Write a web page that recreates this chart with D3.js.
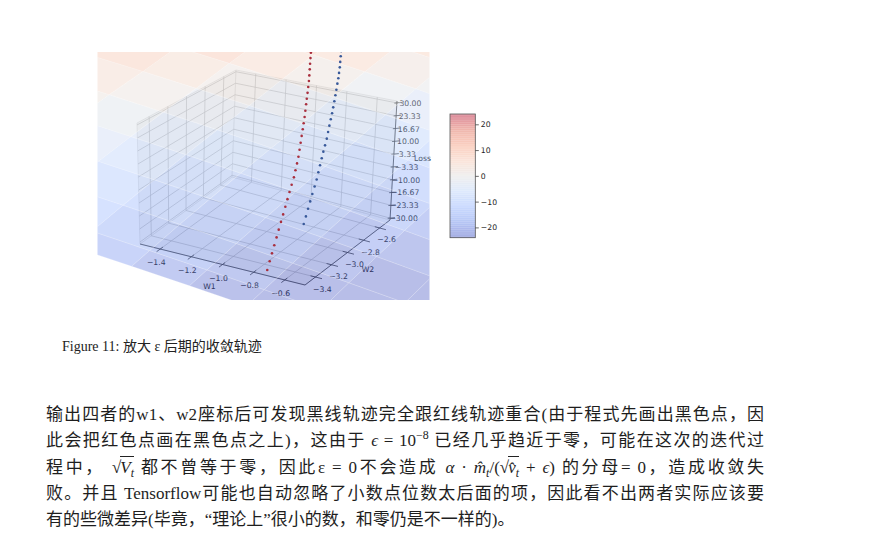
<!DOCTYPE html>
<html>
<head>
<meta charset="utf-8">
<script src="https://cdn.jsdelivr.net/npm/d3@7"></script>
<style>
  body { margin: 0; background: #fff; width: 891px; height: 557px; overflow: hidden; position: relative; }
  svg { position: absolute; left: 0; top: 0; }
  #caption { position: absolute; left: 62px; top: 337px; font-size: 14px; line-height: 20px;
    font-family: "Liberation Serif", "Noto Sans CJK SC"; color: #222; white-space: nowrap; }
  #para { position: absolute; left: 46px; top: 402px; width: 718px; font-size: 17px;
    font-family: "Liberation Serif", "Noto Sans CJK SC"; color: #1e1e1e; }
  .ln { height: 26.3px; line-height: 26.3px; text-align: justify; text-align-last: justify; }
  .ln.last { text-align-last: left; }
  .m { font-family: "Liberation Serif", "DejaVu Serif"; }
  .m sub, .m sup { font-size: 70%; line-height: 0; }
  .rad { border-top: 1px solid #222; padding-top: 1px; margin-left: -1px; }
</style>
</head>
<body>
<svg id="chart" width="891" height="557"></svg>
<div id="caption">Figure 11: 放大 ε 后期的收敛轨迹</div>
<div id="para">
  <div class="ln">输出四者的w1、w2座标后可发现黑线轨迹完全跟红线轨迹重合(由于程式先画出黑色点，因</div>
  <div class="ln">此会把红色点画在黑色点之上)，这由于 <span class="m"><i>ϵ</i> = 10<sup>−8</sup></span> 已经几乎趋近于零，可能在这次的迭代过</div>
  <div class="ln">程中， <span class="m">√<span class="rad"><i>V</i><sub><i>t</i></sub></span></span> 都不曾等于零，因此ε = 0不会造成 <span class="m"><i>α</i> · <i>m̂</i><sub><i>t</i></sub>/(√<span class="rad"><i>v̂</i><sub><i>t</i></sub></span> + <i>ϵ</i>)</span> 的分母= 0，造成收敛失</div>
  <div class="ln">败。并且 Tensorflow可能也自动忽略了小数点位数太后面的项，因此看不出两者实际应该要</div>
  <div class="ln last">有的些微差异(毕竟，“理论上”很小的数，和零仍是不一样的)。</div>
</div>
<script>
// axis ticks
const w1Ticks = [-1.4, -1.2, -1.0, -0.8, -0.6];
const w2Ticks = [-3.4, -3.2, -3.0, -2.8, -2.6];
const lossTicks = [-30, -23.33, -16.67, -10, -3.33, 3.33, 10, 16.67, 23.33, 30];
const cbarTicks = [-20, -10, 0, 10, 20];

// trajectories, in iteration order (the first points run above the top of the plot)
const redW1 = -0.72;
const redW2 = [-3.041, -3.044, -3.046, -3.049, -3.052, -3.054, -3.057, -3.060, -3.066, -3.072,
  -3.079, -3.085, -3.092, -3.099, -3.108, -3.117, -3.128, -3.138, -3.149, -3.160,
  -3.175, -3.192, -3.209, -3.234, -3.258, -3.281, -3.305, -3.330, -3.355, -3.381,
  -3.406, -3.433, -3.460, -3.487, -3.516];
const redLoss = [72.3, 69.7, 67.2, 64.5, 61.7, 58.9, 55.9, 53.1, 50.2, 47.4,
  44.6, 41.9, 38.8, 35.8, 32.9, 30.1, 27.0, 23.8, 20.6, 17.3,
  14.4, 11.4, 8.3, 5.3, 2.3, -0.6, -3.7, -6.8, -9.8, -12.9,
  -16.0, -19.1, -22.3, -25.4, -28.8];
const blueW1 = -0.62;
const blueW2 = [-2.880, -2.883, -2.886, -2.889, -2.892, -2.898, -2.904, -2.913, -2.922, -2.931,
  -2.941, -2.952, -2.963, -2.976, -2.990, -3.003, -3.016, -3.034, -3.052, -3.069,
  -3.087, -3.105, -3.123, -3.146, -3.171, -3.195, -3.219, -3.243, -3.268];
const blueLoss = [68.0, 65.4, 62.8, 60.0, 57.3, 54.6, 52.0, 49.5, 46.6, 44.0,
  41.2, 38.4, 35.7, 33.0, 30.1, 27.2, 24.2, 21.3, 18.6, 15.7,
  12.7, 9.7, 6.5, 3.7, 0.6, -2.4, -5.4, -8.5, -11.6];

// loss surface on a coarse grid (rows = W2, columns = W1)
const surfW1 = [-3.06, -2.70, -2.34, -1.98, -1.62, -1.26, -0.90, -0.54, -0.18, 0.18, 0.54];
const surfW2 = [-4.11, -3.90, -3.55, -3.20, -2.85, -2.50, -2.15, -1.80, -1.45, -1.10, -0.75];
const surfLoss = [
  [-4.6, -7.5, -10.4, -13.4, -16.3, -19.3, -22.2, -25.2, -28.1, -31.1, -34.0],
  [-3.1, -6.0, -8.9, -11.9, -14.8, -17.8, -20.7, -23.7, -26.6, -29.6, -32.5],
  [-0.5, -3.4, -6.3, -9.3, -12.2, -15.2, -18.1, -21.1, -24.0, -27.0, -29.9],
  [2.1, -0.9, -3.8, -6.8, -9.7, -12.7, -15.6, -18.6, -21.5, -24.5, -27.4],
  [4.6, 1.7, -1.2, -4.2, -7.1, -10.1, -13.0, -16.0, -18.9, -21.9, -24.8],
  [7.2, 4.3, 1.4, -1.6, -4.5, -7.5, -10.4, -13.4, -16.3, -19.3, -22.2],
  [9.7, 6.8, 3.9, 0.9, -2.0, -5.0, -7.9, -10.9, -13.8, -16.8, -19.7],
  [13.3, 10.4, 7.5, 4.5, 1.6, -1.4, -4.3, -7.3, -10.2, -13.2, -16.1],
  [16.8, 13.9, 11.0, 8.0, 5.1, 2.1, -0.8, -3.8, -6.7, -9.7, -12.6],
  [20.4, 17.5, 14.6, 11.6, 8.7, 5.7, 2.8, -0.2, -3.1, -6.1, -9.0],
  [24.0, 21.1, 18.2, 15.2, 12.3, 9.3, 6.4, 3.4, 0.5, -2.5, -5.4]
];

// ---- 3d box -> screen ----
var u = d3.scaleLinear().domain([-1.53, -0.47]).range([0, 1]);
var v = d3.scaleLinear().domain([-3.53, -2.47]).range([0, 1]);
var t = d3.scaleLinear().domain([-31, 31]).range([0, 1]);

// where the 8 corners of the unit box land on the page (key = u v t)
var corner = {
  '000': [140, 244], '100': [305, 285], '110': [390, 220], '010': [232, 177],
  '001': [137, 123], '101': [307, 157], '111': [397, 101], '011': [236, 70]
};
function projN(a, b, c) {
  var x = 0, y = 0;
  for (var k in corner) {
    var w = (k[0] == '1' ? a : 1 - a) * (k[1] == '1' ? b : 1 - b) * (k[2] == '1' ? c : 1 - c);
    x += w * corner[k][0]; y += w * corner[k][1];
  }
  return [x, y];
}
function proj(w1, w2, z) { return projN(u(w1), v(w2), t(z)); }

// coolwarm
var coolwarm = d3.scaleLinear()
  .domain([-24, -18, -12, -6, 0, 6, 12, 18, 24])
  .range(["#3b4cc0", "#6282ea", "#8db0fe", "#b8d0f9", "#dddddd", "#f5c4ad", "#f49a7b", "#de604d", "#b40426"])
  .clamp(true);
var surfAlpha = 0.36;

var svg = d3.select('#chart');
var line = d3.line();

svg.append('defs').append('clipPath').attr('id', 'axclip')
  .append('rect').attr('x', 97.5).attr('y', 52).attr('width', 332).attr('height', 248);

var ax = svg.append('g');

// panes
var panes = [
  [[0, 0, 0], [1, 0, 0], [1, 1, 0], [0, 1, 0]],
  [[0, 0, 0], [0, 1, 0], [0, 1, 1], [0, 0, 1]],
  [[0, 1, 0], [1, 1, 0], [1, 1, 1], [0, 1, 1]]
];
ax.selectAll('.pane').data(panes).enter().append('path')
  .attr('d', d => line(d.map(p => projN(p[0], p[1], p[2]))) + 'Z')
  .attr('fill', '#ececec').attr('fill-opacity', 0.5)
  .attr('stroke', '#d6d6d6').attr('stroke-width', 0.6);

// grid lines
var grid = [];
w1Ticks.forEach(function (d) {
  grid.push([projN(u(d), 0, 0), projN(u(d), 1, 0), projN(u(d), 1, 1)]);
});
w2Ticks.forEach(function (d) {
  grid.push([projN(1, v(d), 0), projN(0, v(d), 0), projN(0, v(d), 1)]);
});
lossTicks.forEach(function (d) {
  grid.push([projN(0, 0, t(d)), projN(0, 1, t(d)), projN(1, 1, t(d))]);
});
ax.selectAll('.grid').data(grid).enter().append('path')
  .attr('d', line).attr('fill', 'none')
  .attr('stroke', '#b9b9b9').attr('stroke-width', 0.7);

// axis lines
var axisCol = '#333';
[[[0, 0, 0], [1, 0, 0]], [[1, 0, 0], [1, 1, 0]], [[1, 1, 0], [1, 1, 1]]].forEach(function (s) {
  ax.append('path').attr('d', line(s.map(p => projN(p[0], p[1], p[2]))))
    .attr('stroke', axisCol).attr('stroke-width', 0.8).attr('fill', 'none');
});

var tickFont = '"DejaVu Sans", sans-serif';
var minus = s => s.replace('-', '\u2212');

// W1 ticks
w1Ticks.forEach(function (d) {
  ax.append('path').attr('d', line([projN(u(d), -0.04, 0), projN(u(d), 0.03, 0)]))
    .attr('stroke', axisCol).attr('stroke-width', 0.8);
  var p = projN(u(d), 0, 0);
  ax.append('text').attr('x', p[0] - 4).attr('y', p[1] + 13.5)
    .attr('text-anchor', 'middle').attr('dominant-baseline', 'central')
    .style('font-family', tickFont).style('font-size', '7.7px').attr('fill', '#262626')
    .text(minus(d3.format('.1f')(d)));
});
// W2 ticks
w2Ticks.forEach(function (d) {
  ax.append('path').attr('d', line([projN(0.97, v(d), 0), projN(1.04, v(d), 0)]))
    .attr('stroke', axisCol).attr('stroke-width', 0.8);
  var p = projN(1, v(d), 0);
  ax.append('text').attr('x', p[0] + 7).attr('y', p[1] + 12)
    .attr('text-anchor', 'middle').attr('dominant-baseline', 'central')
    .style('font-family', tickFont).style('font-size', '7.7px').attr('fill', '#262626')
    .text(minus(d3.format('.1f')(d)));
});
// Loss ticks
lossTicks.forEach(function (d) {
  ax.append('path').attr('d', line([projN(0.99, 0.99, t(d)), projN(1.02, 1.02, t(d))]))
    .attr('stroke', axisCol).attr('stroke-width', 0.8);
  var p = projN(1, 1, t(d));
  ax.append('text').attr('x', p[0] + 13.5).attr('y', p[1] + 0.5)
    .attr('text-anchor', 'middle').attr('dominant-baseline', 'central')
    .style('font-family', tickFont).style('font-size', '7.7px').attr('fill', '#262626')
    .text(d3.format('.2f')(d));
});

// axis labels
var lab = [
  { p: projN(0.5, 0, 0), dx: -13, dy: 22, s: 'W1' },
  { p: projN(1, 0.5, 0), dx: 20.5, dy: 16.5, s: 'W2' },
  { p: projN(1, 1, 0.5), dx: 29, dy: -2, s: 'Loss' }
];
lab.forEach(function (d) {
  ax.append('text').attr('x', d.p[0] + d.dx).attr('y', d.p[1] + d.dy)
    .attr('text-anchor', 'middle').attr('dominant-baseline', 'central')
    .style('font-family', tickFont).style('font-size', '7.7px').attr('fill', '#262626')
    .text(d.s);
});

// surface
var cells = [];
for (var i = 0; i < surfW2.length - 1; i++) {
  for (var j = 0; j < surfW1.length - 1; j++) {
    var ids = [[i, j], [i, j + 1], [i + 1, j + 1], [i + 1, j]];
    cells.push({
      pts: ids.map(k => proj(surfW1[k[1]], surfW2[k[0]], surfLoss[k[0]][k[1]])),
      z: d3.mean(ids, k => surfLoss[k[0]][k[1]])
    });
  }
}
var sg = svg.append('g').attr('clip-path', 'url(#axclip)');
sg.selectAll('.cell').data(cells).enter().append('path')
  .attr('d', d => line(d.pts) + 'Z')
  .attr('fill', d => coolwarm(d.z)).attr('fill-opacity', surfAlpha)
  .attr('stroke', '#ffffff').attr('stroke-opacity', 0.3).attr('stroke-width', 0.7);

// trajectories
var dg = svg.append('g').attr('clip-path', 'url(#axclip)');
dg.selectAll('.blue').data(blueW2).enter().append('circle')
  .attr('cx', (d, k) => proj(blueW1, d, blueLoss[k])[0])
  .attr('cy', (d, k) => proj(blueW1, d, blueLoss[k])[1])
  .attr('r', 1.3).attr('fill', '#38599a');
dg.selectAll('.red').data(redW2).enter().append('circle')
  .attr('cx', (d, k) => proj(redW1, d, redLoss[k])[0])
  .attr('cy', (d, k) => proj(redW1, d, redLoss[k])[1])
  .attr('r', 1.3).attr('fill', '#a92f3e');

// colorbar
var cb = { x: 450, w: 25.3 };
var cy = d3.scaleLinear().domain([-24, 24]).range([237.7, 114]);
var cg = svg.append('g');
var bands = d3.range(-24, 24, 0.75);
cg.selectAll('.band').data(bands).enter().append('rect')
  .attr('x', cb.x).attr('width', cb.w)
  .attr('y', d => cy(d + 0.75)).attr('height', d => cy(d) - cy(d + 0.75) + 0.3)
  .attr('fill', d => coolwarm(d + 0.375)).attr('fill-opacity', 0.4);
cg.append('rect').attr('x', cb.x).attr('y', cy(24)).attr('width', cb.w).attr('height', cy(-24) - cy(24))
  .attr('fill', 'none').attr('stroke', '#555').attr('stroke-width', 0.8);
cg.append('g').attr('transform', 'translate(' + (cb.x + cb.w) + ',0)')
  .call(d3.axisRight(cy).tickValues(cbarTicks).tickSize(3.5).tickPadding(2).tickFormat(d => minus(String(d))))
  .call(g => g.select('.domain').remove())
  .call(g => g.selectAll('line').attr('stroke', '#444').attr('stroke-width', 0.8))
  .call(g => g.selectAll('text').style('font-family', tickFont).style('font-size', '7.7px').attr('fill', '#262626'));
</script>
</body>
</html>
